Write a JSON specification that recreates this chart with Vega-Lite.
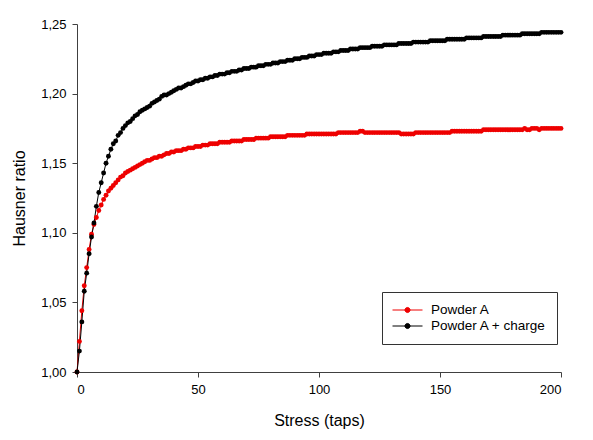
{
  "$schema": "https://vega.github.io/schema/vega-lite/v6.json",
  "width": 484,
  "height": 348,
  "autosize": {"type": "none"},
  "padding": {"left": 77, "top": 24, "right": 32, "bottom": 68},
  "background": "white",
  "config": {
    "view": {"stroke": null},
    "font": "Liberation Sans",
    "axis": {
      "grid": false,
      "domainColor": "#404040",
      "tickColor": "#404040",
      "tickSize": 5,
      "labelFont": "Liberation Sans",
      "labelFontSize": 13,
      "labelColor": "#000000",
      "titleFont": "Liberation Sans",
      "titleFontSize": 16,
      "titleFontWeight": "normal",
      "titleColor": "#000000"
    }
  },
  "data": {
    "values": [
      {"t":0,"A":1.000,"C":1.000},
      {"t":1,"A":1.022,"C":1.015},
      {"t":2,"A":1.044,"C":1.036},
      {"t":3,"A":1.062,"C":1.058},
      {"t":4,"A":1.075,"C":1.071},
      {"t":5,"A":1.088,"C":1.085},
      {"t":6,"A":1.099,"C":1.097},
      {"t":7,"A":1.106,"C":1.107},
      {"t":8,"A":1.111,"C":1.119},
      {"t":9,"A":1.116,"C":1.129},
      {"t":10,"A":1.120,"C":1.136},
      {"t":11,"A":1.124,"C":1.143},
      {"t":12,"A":1.127,"C":1.150},
      {"t":13,"A":1.130,"C":1.155},
      {"t":14,"A":1.132,"C":1.160},
      {"t":15,"A":1.134,"C":1.164},
      {"t":16,"A":1.136,"C":1.166},
      {"t":17,"A":1.138,"C":1.170},
      {"t":18,"A":1.140,"C":1.172},
      {"t":19,"A":1.141,"C":1.175},
      {"t":20,"A":1.143,"C":1.177},
      {"t":21,"A":1.144,"C":1.179},
      {"t":22,"A":1.145,"C":1.180},
      {"t":23,"A":1.146,"C":1.182},
      {"t":24,"A":1.147,"C":1.184},
      {"t":25,"A":1.148,"C":1.185},
      {"t":26,"A":1.149,"C":1.187},
      {"t":27,"A":1.150,"C":1.188},
      {"t":28,"A":1.151,"C":1.189},
      {"t":29,"A":1.152,"C":1.190},
      {"t":30,"A":1.152,"C":1.191},
      {"t":31,"A":1.153,"C":1.193},
      {"t":32,"A":1.154,"C":1.194},
      {"t":33,"A":1.154,"C":1.195},
      {"t":34,"A":1.155,"C":1.196},
      {"t":35,"A":1.155,"C":1.198},
      {"t":36,"A":1.156,"C":1.199},
      {"t":37,"A":1.157,"C":1.199},
      {"t":38,"A":1.157,"C":1.200},
      {"t":39,"A":1.158,"C":1.201},
      {"t":40,"A":1.158,"C":1.202},
      {"t":41,"A":1.159,"C":1.203},
      {"t":42,"A":1.159,"C":1.204},
      {"t":43,"A":1.159,"C":1.204},
      {"t":44,"A":1.160,"C":1.205},
      {"t":45,"A":1.160,"C":1.206},
      {"t":46,"A":1.161,"C":1.207},
      {"t":47,"A":1.161,"C":1.207},
      {"t":48,"A":1.161,"C":1.208},
      {"t":49,"A":1.162,"C":1.209},
      {"t":50,"A":1.162,"C":1.209},
      {"t":51,"A":1.162,"C":1.210},
      {"t":52,"A":1.163,"C":1.210},
      {"t":53,"A":1.163,"C":1.211},
      {"t":54,"A":1.163,"C":1.211},
      {"t":55,"A":1.164,"C":1.212},
      {"t":56,"A":1.164,"C":1.212},
      {"t":57,"A":1.164,"C":1.213},
      {"t":58,"A":1.164,"C":1.213},
      {"t":59,"A":1.165,"C":1.214},
      {"t":60,"A":1.165,"C":1.214},
      {"t":61,"A":1.165,"C":1.214},
      {"t":62,"A":1.165,"C":1.215},
      {"t":63,"A":1.165,"C":1.215},
      {"t":64,"A":1.166,"C":1.216},
      {"t":65,"A":1.166,"C":1.216},
      {"t":66,"A":1.166,"C":1.216},
      {"t":67,"A":1.166,"C":1.217},
      {"t":68,"A":1.166,"C":1.217},
      {"t":69,"A":1.167,"C":1.218},
      {"t":70,"A":1.167,"C":1.218},
      {"t":71,"A":1.167,"C":1.218},
      {"t":72,"A":1.167,"C":1.219},
      {"t":73,"A":1.167,"C":1.219},
      {"t":74,"A":1.168,"C":1.219},
      {"t":75,"A":1.168,"C":1.220},
      {"t":76,"A":1.168,"C":1.220},
      {"t":77,"A":1.168,"C":1.220},
      {"t":78,"A":1.168,"C":1.221},
      {"t":79,"A":1.168,"C":1.221},
      {"t":80,"A":1.169,"C":1.221},
      {"t":81,"A":1.169,"C":1.222},
      {"t":82,"A":1.169,"C":1.222},
      {"t":83,"A":1.169,"C":1.222},
      {"t":84,"A":1.169,"C":1.223},
      {"t":85,"A":1.169,"C":1.223},
      {"t":86,"A":1.169,"C":1.223},
      {"t":87,"A":1.170,"C":1.224},
      {"t":88,"A":1.170,"C":1.224},
      {"t":89,"A":1.170,"C":1.224},
      {"t":90,"A":1.170,"C":1.225},
      {"t":91,"A":1.170,"C":1.225},
      {"t":92,"A":1.170,"C":1.225},
      {"t":93,"A":1.170,"C":1.226},
      {"t":94,"A":1.170,"C":1.226},
      {"t":95,"A":1.171,"C":1.226},
      {"t":96,"A":1.171,"C":1.227},
      {"t":97,"A":1.171,"C":1.227},
      {"t":98,"A":1.171,"C":1.227},
      {"t":99,"A":1.171,"C":1.228},
      {"t":100,"A":1.171,"C":1.228},
      {"t":101,"A":1.171,"C":1.228},
      {"t":102,"A":1.171,"C":1.229},
      {"t":103,"A":1.171,"C":1.229},
      {"t":104,"A":1.171,"C":1.229},
      {"t":105,"A":1.171,"C":1.229},
      {"t":106,"A":1.171,"C":1.230},
      {"t":107,"A":1.171,"C":1.230},
      {"t":108,"A":1.172,"C":1.230},
      {"t":109,"A":1.172,"C":1.231},
      {"t":110,"A":1.172,"C":1.231},
      {"t":111,"A":1.172,"C":1.231},
      {"t":112,"A":1.172,"C":1.231},
      {"t":113,"A":1.172,"C":1.232},
      {"t":114,"A":1.172,"C":1.232},
      {"t":115,"A":1.172,"C":1.232},
      {"t":116,"A":1.172,"C":1.232},
      {"t":117,"A":1.173,"C":1.233},
      {"t":118,"A":1.173,"C":1.233},
      {"t":119,"A":1.172,"C":1.233},
      {"t":120,"A":1.172,"C":1.233},
      {"t":121,"A":1.172,"C":1.233},
      {"t":122,"A":1.172,"C":1.234},
      {"t":123,"A":1.172,"C":1.234},
      {"t":124,"A":1.172,"C":1.234},
      {"t":125,"A":1.172,"C":1.234},
      {"t":126,"A":1.172,"C":1.234},
      {"t":127,"A":1.172,"C":1.235},
      {"t":128,"A":1.172,"C":1.235},
      {"t":129,"A":1.172,"C":1.235},
      {"t":130,"A":1.172,"C":1.235},
      {"t":131,"A":1.172,"C":1.235},
      {"t":132,"A":1.172,"C":1.235},
      {"t":133,"A":1.172,"C":1.236},
      {"t":134,"A":1.171,"C":1.236},
      {"t":135,"A":1.171,"C":1.236},
      {"t":136,"A":1.171,"C":1.236},
      {"t":137,"A":1.171,"C":1.236},
      {"t":138,"A":1.171,"C":1.236},
      {"t":139,"A":1.171,"C":1.237},
      {"t":140,"A":1.172,"C":1.237},
      {"t":141,"A":1.172,"C":1.237},
      {"t":142,"A":1.172,"C":1.237},
      {"t":143,"A":1.172,"C":1.237},
      {"t":144,"A":1.172,"C":1.237},
      {"t":145,"A":1.172,"C":1.237},
      {"t":146,"A":1.172,"C":1.238},
      {"t":147,"A":1.172,"C":1.238},
      {"t":148,"A":1.172,"C":1.238},
      {"t":149,"A":1.172,"C":1.238},
      {"t":150,"A":1.172,"C":1.238},
      {"t":151,"A":1.172,"C":1.238},
      {"t":152,"A":1.172,"C":1.238},
      {"t":153,"A":1.172,"C":1.239},
      {"t":154,"A":1.172,"C":1.239},
      {"t":155,"A":1.173,"C":1.239},
      {"t":156,"A":1.173,"C":1.239},
      {"t":157,"A":1.173,"C":1.239},
      {"t":158,"A":1.173,"C":1.239},
      {"t":159,"A":1.173,"C":1.239},
      {"t":160,"A":1.173,"C":1.239},
      {"t":161,"A":1.173,"C":1.240},
      {"t":162,"A":1.173,"C":1.240},
      {"t":163,"A":1.173,"C":1.240},
      {"t":164,"A":1.173,"C":1.240},
      {"t":165,"A":1.173,"C":1.240},
      {"t":166,"A":1.173,"C":1.240},
      {"t":167,"A":1.173,"C":1.240},
      {"t":168,"A":1.174,"C":1.241},
      {"t":169,"A":1.174,"C":1.241},
      {"t":170,"A":1.174,"C":1.241},
      {"t":171,"A":1.174,"C":1.241},
      {"t":172,"A":1.174,"C":1.241},
      {"t":173,"A":1.174,"C":1.241},
      {"t":174,"A":1.174,"C":1.241},
      {"t":175,"A":1.174,"C":1.241},
      {"t":176,"A":1.174,"C":1.242},
      {"t":177,"A":1.174,"C":1.242},
      {"t":178,"A":1.174,"C":1.242},
      {"t":179,"A":1.174,"C":1.242},
      {"t":180,"A":1.174,"C":1.242},
      {"t":181,"A":1.174,"C":1.242},
      {"t":182,"A":1.174,"C":1.242},
      {"t":183,"A":1.174,"C":1.242},
      {"t":184,"A":1.174,"C":1.243},
      {"t":185,"A":1.175,"C":1.243},
      {"t":186,"A":1.174,"C":1.243},
      {"t":187,"A":1.174,"C":1.243},
      {"t":188,"A":1.175,"C":1.243},
      {"t":189,"A":1.175,"C":1.243},
      {"t":190,"A":1.175,"C":1.243},
      {"t":191,"A":1.174,"C":1.243},
      {"t":192,"A":1.175,"C":1.244},
      {"t":193,"A":1.175,"C":1.244},
      {"t":194,"A":1.175,"C":1.244},
      {"t":195,"A":1.175,"C":1.244},
      {"t":196,"A":1.175,"C":1.244},
      {"t":197,"A":1.175,"C":1.244},
      {"t":198,"A":1.175,"C":1.244},
      {"t":199,"A":1.175,"C":1.244},
      {"t":200,"A":1.175,"C":1.244}
    ]
  },
  "transform": [{"fold": ["A", "C"], "as": ["series", "h"]}],
  "encoding": {
    "x": {
      "field": "t",
      "type": "quantitative",
      "scale": {"domain": [0, 200], "nice": false, "zero": false},
      "axis": {
        "values": [0, 50, 100, 150, 200],
        "format": "d",
        "title": "Stress (taps)",
        "labelPadding": 6,
        "titleY": 53,
        "titleBaseline": "alphabetic"
      }
    },
    "y": {
      "field": "h",
      "type": "quantitative",
      "scale": {"domain": [1.0, 1.25], "nice": false, "zero": false},
      "axis": {
        "values": [1.0, 1.05, 1.1, 1.15, 1.2, 1.25],
        "labelExpr": "replace(format(datum.value, '.2f'), '.', ',')",
        "labelPadding": 6,
        "title": "Hausner ratio",
        "titleAngle": -90,
        "titleX": -53,
        "titleY": 174,
        "titleAlign": "center",
        "titleBaseline": "alphabetic"
      }
    },
    "color": {
      "field": "series",
      "type": "nominal",
      "scale": {"domain": ["A", "C"], "range": ["#ee0000", "#000000"]},
      "legend": {
        "orient": "none",
        "legendX": 305,
        "legendY": 268,
        "title": null,
        "labelExpr": "datum.label == 'A' ? 'Powder A' : 'Powder A + charge'",
        "symbolType": "M-1,0H1M-0.17,0A0.17,0.17 0 1,0 0.17,0A0.17,0.17 0 1,0 -0.17,0Z",
        "symbolSize": 900,
        "symbolStrokeWidth": 1,
        "clipHeight": 16,
        "rowPadding": 0,
        "padding": 10,
        "strokeColor": "#333333",
        "fillColor": "#ffffff",
        "labelFont": "Liberation Sans",
        "labelFontSize": 13.5,
        "labelColor": "#000000",
        "labelOffset": 8,
        "encode": {
          "symbols": {
            "update": {
              "fill": {"scale": "color", "field": "value"},
              "stroke": {"scale": "color", "field": "value"},
              "strokeWidth": {"value": 1},
              "opacity": {"value": 1}
            }
          }
        }
      }
    }
  },
  "layer": [
    {"mark": {"type": "line", "strokeWidth": 1}},
    {
      "mark": {"type": "point", "filled": true, "shape": "circle", "size": 24, "opacity": 1},
      "encoding": {"order": {"field": "series", "type": "nominal", "sort": "ascending"}}
    }
  ]
}
